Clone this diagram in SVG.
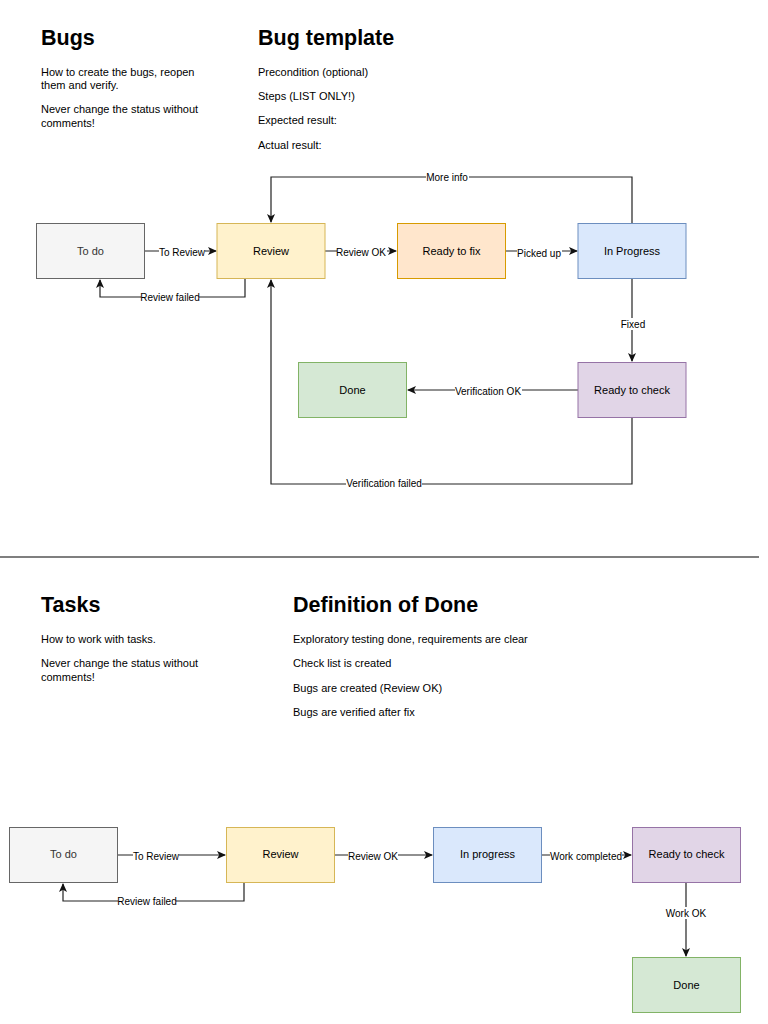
<svg xmlns="http://www.w3.org/2000/svg" width="768" height="1024" viewBox="0 0 768 1024">
<style>
text{font-family:"Liberation Sans",Arial,sans-serif;}
.h{font-size:21.5px;font-weight:bold;fill:#000;}
.t{font-size:11px;fill:#000;}
.n{font-size:11px;text-anchor:middle;fill:#000;}
.l{font-size:10px;text-anchor:middle;fill:#000;}
.e{fill:none;stroke:#222;stroke-width:1.2;}
.lb{fill:#fff;}
.gray{fill:#f5f5f5;stroke:#666;}
.yel{fill:#fff2cc;stroke:#d6b656;}
.org{fill:#ffe6cc;stroke:#d79b00;}
.blu{fill:#dae8fc;stroke:#6c8ebf;}
.pur{fill:#e1d5e7;stroke:#9673a6;}
.grn{fill:#d5e8d4;stroke:#82b366;}
</style>
<defs>
<marker id="arr" markerWidth="10" markerHeight="10" refX="8" refY="4" orient="auto" markerUnits="userSpaceOnUse">
<path d="M0,0 L9,4 L0,8 L2.2,4 Z" fill="#111"/>
</marker>
</defs>
<rect width="768" height="1024" fill="#fff"/>

<g id="texts">
<text class="h" x="41" y="45">Bugs</text>
<text class="h" x="258" y="45">Bug template</text>
<text class="t" x="41" y="76">How to create the bugs, reopen</text>
<text class="t" x="41" y="89">them and verify.</text>
<text class="t" x="41" y="113">Never change the status without</text>
<text class="t" x="41" y="127">comments!</text>
<text class="t" x="258" y="76">Precondition (optional)</text>
<text class="t" x="258" y="100">Steps (LIST ONLY!)</text>
<text class="t" x="258" y="124">Expected result:</text>
<text class="t" x="258" y="149">Actual result:</text>

<text class="h" x="41" y="612">Tasks</text>
<text class="h" x="293" y="612">Definition of Done</text>
<text class="t" x="41" y="643">How to work with tasks.</text>
<text class="t" x="41" y="667">Never change the status without</text>
<text class="t" x="41" y="681">comments!</text>
<text class="t" x="293" y="643">Exploratory testing done, requirements are clear</text>
<text class="t" x="293" y="667">Check list is created</text>
<text class="t" x="293" y="692">Bugs are created (Review OK)</text>
<text class="t" x="293" y="716">Bugs are verified after fix</text>
</g>

<line id="separator" x1="0" y1="557" x2="759" y2="557" stroke="#555" stroke-width="1.5"/>

<g id="connectors">
<!-- Bugs -->
<path class="e" d="M145,251 H216" marker-end="url(#arr)"/>
<path class="e" d="M325,251 H396" marker-end="url(#arr)"/>
<path class="e" d="M506,251 H577" marker-end="url(#arr)"/>
<path class="e" d="M632,223 V177 H271 V222" marker-end="url(#arr)"/>
<path class="e" d="M632,279 V361" marker-end="url(#arr)"/>
<path class="e" d="M578,390 H408" marker-end="url(#arr)"/>
<path class="e" d="M632,418 V484 H271 V280" marker-end="url(#arr)"/>
<path class="e" d="M245,279 V297 H100 V280" marker-end="url(#arr)"/>
<!-- Tasks -->
<path class="e" d="M118,855 H225" marker-end="url(#arr)"/>
<path class="e" d="M334,855 H432" marker-end="url(#arr)"/>
<path class="e" d="M542,855 H631" marker-end="url(#arr)"/>
<path class="e" d="M244,883 V901 H63 V884" marker-end="url(#arr)"/>
<path class="e" d="M686,883 V956" marker-end="url(#arr)"/>

<g id="edge-labels">
<rect class="lb" x="159" y="246" width="46" height="12"/><text class="l" x="182" y="256">To Review</text>
<rect class="lb" x="337" y="246" width="50" height="12"/><text class="l" x="361" y="256">Review OK</text>
<rect class="lb" x="517" y="247" width="45" height="12"/><text class="l" x="539" y="257">Picked up</text>
<rect class="lb" x="426" y="171" width="43" height="12"/><text class="l" x="447" y="181">More info</text>
<rect class="lb" x="620" y="318" width="26" height="12"/><text class="l" x="633" y="328">Fixed</text>
<rect class="lb" x="455" y="385" width="67" height="12"/><text class="l" x="488" y="395">Verification OK</text>
<rect class="lb" x="346" y="478" width="76" height="12"/><text class="l" x="384" y="487">Verification failed</text>
<rect class="lb" x="141" y="292" width="58" height="12"/><text class="l" x="170" y="301">Review failed</text>

<rect class="lb" x="133" y="850" width="46" height="12"/><text class="l" x="156" y="860">To Review</text>
<rect class="lb" x="348" y="850" width="50" height="12"/><text class="l" x="373" y="860">Review OK</text>
<rect class="lb" x="550" y="850" width="72" height="12"/><text class="l" x="586" y="860">Work completed</text>
<rect class="lb" x="118" y="896" width="58" height="12"/><text class="l" x="147" y="905">Review failed</text>
<rect class="lb" x="667" y="907" width="38" height="12"/><text class="l" x="686" y="917">Work OK</text>
</g>
</g>

<g id="bug-todo"><rect class="gray" x="36.5" y="223.5" width="108" height="55"/><text class="n" x="90.5" y="255" fill="#333" style="fill:#333">To do</text></g>
<g id="bug-review"><rect class="yel" x="217" y="223.5" width="108" height="55"/><text class="n" x="271" y="255">Review</text></g>
<g id="bug-readyfix"><rect class="org" x="397.5" y="223.5" width="108" height="55"/><text class="n" x="451.5" y="255">Ready to fix</text></g>
<g id="bug-inprogress"><rect class="blu" x="578" y="223.5" width="108" height="55"/><text class="n" x="632" y="255">In Progress</text></g>
<g id="bug-readycheck"><rect class="pur" x="578" y="362.5" width="108" height="55"/><text class="n" x="632" y="394">Ready to check</text></g>
<g id="bug-done"><rect class="grn" x="298.5" y="362.5" width="108" height="55"/><text class="n" x="352.5" y="394">Done</text></g>

<g id="task-todo"><rect class="gray" x="9.5" y="827.5" width="108" height="55"/><text class="n" x="63.5" y="858" style="fill:#333">To do</text></g>
<g id="task-review"><rect class="yel" x="226.5" y="827.5" width="108" height="55"/><text class="n" x="280.5" y="858">Review</text></g>
<g id="task-inprogress"><rect class="blu" x="433.5" y="827.5" width="108" height="55"/><text class="n" x="487.5" y="858">In progress</text></g>
<g id="task-readycheck"><rect class="pur" x="632.5" y="827.5" width="108" height="55"/><text class="n" x="686.5" y="858">Ready to check</text></g>
<g id="task-done"><rect class="grn" x="632.5" y="957.5" width="108" height="55"/><text class="n" x="686.5" y="989">Done</text></g>
</svg>
